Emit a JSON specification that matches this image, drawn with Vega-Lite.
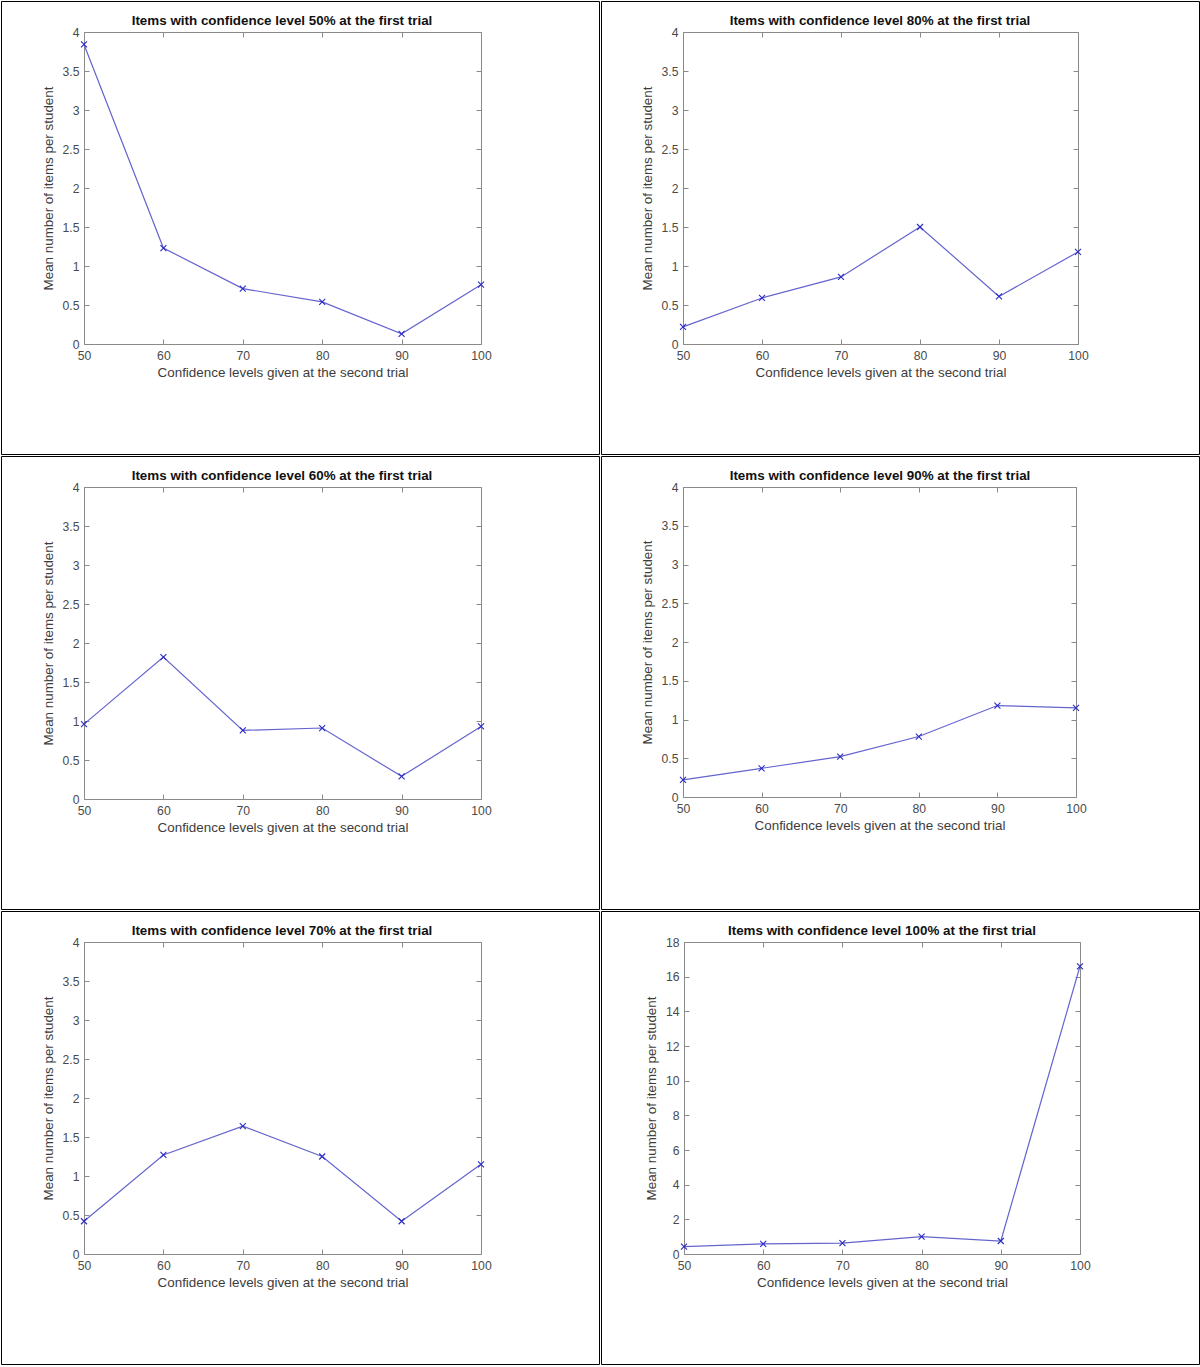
{
  "$schema": "https://vega.github.io/schema/vega-lite/v6.json",
  "padding": 0,
  "background": "white",
  "spacing": 0,
  "columns": 2,
  "datasets": {
    "p50": [{"second": 50, "value": 3.84}, {"second": 60, "value": 1.23}, {"second": 70, "value": 0.71}, {"second": 80, "value": 0.54}, {"second": 90, "value": 0.13}, {"second": 100, "value": 0.76}],
    "p80": [{"second": 50, "value": 0.22}, {"second": 60, "value": 0.59}, {"second": 70, "value": 0.86}, {"second": 80, "value": 1.5}, {"second": 90, "value": 0.61}, {"second": 100, "value": 1.18}],
    "p60": [{"second": 50, "value": 0.96}, {"second": 60, "value": 1.82}, {"second": 70, "value": 0.88}, {"second": 80, "value": 0.91}, {"second": 90, "value": 0.29}, {"second": 100, "value": 0.93}],
    "p90": [{"second": 50, "value": 0.22}, {"second": 60, "value": 0.37}, {"second": 70, "value": 0.52}, {"second": 80, "value": 0.78}, {"second": 90, "value": 1.18}, {"second": 100, "value": 1.15}],
    "p70": [{"second": 50, "value": 0.42}, {"second": 60, "value": 1.27}, {"second": 70, "value": 1.64}, {"second": 80, "value": 1.25}, {"second": 90, "value": 0.42}, {"second": 100, "value": 1.15}],
    "p100": [{"second": 50, "value": 0.42}, {"second": 60, "value": 0.58}, {"second": 70, "value": 0.63}, {"second": 80, "value": 1.0}, {"second": 90, "value": 0.75}, {"second": 100, "value": 16.6}]
  },
  "concat": [
    {
      "width": 598, "height": 453,
      "title": {"text": "Items with confidence level 50% at the first trial", "offset": -26, "dx": -18},
      "data": {"name": "p50"},
      "layer": [
        {"mark": {"type": "line", "color": "#6464cf", "strokeWidth": 1.2, "point": {"shape": "M-1,-1L1,1M-1,1L1,-1", "filled": false, "size": 36, "stroke": "#2a2ac4", "strokeWidth": 1.1}},
         "encoding": {
           "x": {"field": "second", "type": "quantitative", "scale": {"domain": [50, 100], "range": [83, 480], "nice": false, "zero": false}, "axis": {"orient": "bottom", "offset": -110, "values": [50, 60, 70, 80, 90, 100], "format": "d", "title": "Confidence levels given at the second trial"}},
           "y": {"field": "value", "type": "quantitative", "scale": {"domain": [0, 4], "range": [343, 31], "nice": false}, "axis": {"orient": "left", "offset": -83, "values": [0, 0.5, 1, 1.5, 2, 2.5, 3, 3.5, 4], "title": "Mean number of items per student"}}
         }},
        {"mark": {"type": "line", "opacity": 0},
         "encoding": {
           "x": {"field": "second", "type": "quantitative", "axis": {"orient": "top", "offset": -31, "labels": false, "title": null, "values": [50, 60, 70, 80, 90, 100]}},
           "y": {"field": "value", "type": "quantitative", "axis": {"orient": "right", "offset": -118, "labels": false, "title": null, "values": [0, 0.5, 1, 1.5, 2, 2.5, 3, 3.5, 4]}}
         }}
      ],
      "resolve": {"axis": {"x": "independent", "y": "independent"}}
    },
    {
      "width": 598, "height": 453,
      "title": {"text": "Items with confidence level 80% at the first trial", "offset": -26, "dx": -20},
      "data": {"name": "p80"},
      "layer": [
        {"mark": {"type": "line", "color": "#6464cf", "strokeWidth": 1.2, "point": {"shape": "M-1,-1L1,1M-1,1L1,-1", "filled": false, "size": 36, "stroke": "#2a2ac4", "strokeWidth": 1.1}},
         "encoding": {
           "x": {"field": "second", "type": "quantitative", "scale": {"domain": [50, 100], "range": [82, 477], "nice": false, "zero": false}, "axis": {"orient": "bottom", "offset": -110, "values": [50, 60, 70, 80, 90, 100], "format": "d", "title": "Confidence levels given at the second trial"}},
           "y": {"field": "value", "type": "quantitative", "scale": {"domain": [0, 4], "range": [343, 31], "nice": false}, "axis": {"orient": "left", "offset": -82, "values": [0, 0.5, 1, 1.5, 2, 2.5, 3, 3.5, 4], "title": "Mean number of items per student"}}
         }},
        {"mark": {"type": "line", "opacity": 0},
         "encoding": {
           "x": {"field": "second", "type": "quantitative", "axis": {"orient": "top", "offset": -31, "labels": false, "title": null, "values": [50, 60, 70, 80, 90, 100]}},
           "y": {"field": "value", "type": "quantitative", "axis": {"orient": "right", "offset": -121, "labels": false, "title": null, "values": [0, 0.5, 1, 1.5, 2, 2.5, 3, 3.5, 4]}}
         }}
      ],
      "resolve": {"axis": {"x": "independent", "y": "independent"}}
    },
    {
      "width": 598, "height": 453,
      "title": {"text": "Items with confidence level 60% at the first trial", "offset": -26, "dx": -18},
      "data": {"name": "p60"},
      "layer": [
        {"mark": {"type": "line", "color": "#6464cf", "strokeWidth": 1.2, "point": {"shape": "M-1,-1L1,1M-1,1L1,-1", "filled": false, "size": 36, "stroke": "#2a2ac4", "strokeWidth": 1.1}},
         "encoding": {
           "x": {"field": "second", "type": "quantitative", "scale": {"domain": [50, 100], "range": [83, 480], "nice": false, "zero": false}, "axis": {"orient": "bottom", "offset": -110, "values": [50, 60, 70, 80, 90, 100], "format": "d", "title": "Confidence levels given at the second trial"}},
           "y": {"field": "value", "type": "quantitative", "scale": {"domain": [0, 4], "range": [343, 31], "nice": false}, "axis": {"orient": "left", "offset": -83, "values": [0, 0.5, 1, 1.5, 2, 2.5, 3, 3.5, 4], "title": "Mean number of items per student"}}
         }},
        {"mark": {"type": "line", "opacity": 0},
         "encoding": {
           "x": {"field": "second", "type": "quantitative", "axis": {"orient": "top", "offset": -31, "labels": false, "title": null, "values": [50, 60, 70, 80, 90, 100]}},
           "y": {"field": "value", "type": "quantitative", "axis": {"orient": "right", "offset": -118, "labels": false, "title": null, "values": [0, 0.5, 1, 1.5, 2, 2.5, 3, 3.5, 4]}}
         }}
      ],
      "resolve": {"axis": {"x": "independent", "y": "independent"}}
    },
    {
      "width": 598, "height": 453,
      "title": {"text": "Items with confidence level 90% at the first trial", "offset": -26, "dx": -20},
      "data": {"name": "p90"},
      "layer": [
        {"mark": {"type": "line", "color": "#6464cf", "strokeWidth": 1.2, "point": {"shape": "M-1,-1L1,1M-1,1L1,-1", "filled": false, "size": 36, "stroke": "#2a2ac4", "strokeWidth": 1.1}},
         "encoding": {
           "x": {"field": "second", "type": "quantitative", "scale": {"domain": [50, 100], "range": [82, 475], "nice": false, "zero": false}, "axis": {"orient": "bottom", "offset": -112, "values": [50, 60, 70, 80, 90, 100], "format": "d", "title": "Confidence levels given at the second trial"}},
           "y": {"field": "value", "type": "quantitative", "scale": {"domain": [0, 4], "range": [341, 31], "nice": false}, "axis": {"orient": "left", "offset": -82, "values": [0, 0.5, 1, 1.5, 2, 2.5, 3, 3.5, 4], "title": "Mean number of items per student"}}
         }},
        {"mark": {"type": "line", "opacity": 0},
         "encoding": {
           "x": {"field": "second", "type": "quantitative", "axis": {"orient": "top", "offset": -31, "labels": false, "title": null, "values": [50, 60, 70, 80, 90, 100]}},
           "y": {"field": "value", "type": "quantitative", "axis": {"orient": "right", "offset": -123, "labels": false, "title": null, "values": [0, 0.5, 1, 1.5, 2, 2.5, 3, 3.5, 4]}}
         }}
      ],
      "resolve": {"axis": {"x": "independent", "y": "independent"}}
    },
    {
      "width": 598, "height": 453,
      "title": {"text": "Items with confidence level 70% at the first trial", "offset": -26, "dx": -18},
      "data": {"name": "p70"},
      "layer": [
        {"mark": {"type": "line", "color": "#6464cf", "strokeWidth": 1.2, "point": {"shape": "M-1,-1L1,1M-1,1L1,-1", "filled": false, "size": 36, "stroke": "#2a2ac4", "strokeWidth": 1.1}},
         "encoding": {
           "x": {"field": "second", "type": "quantitative", "scale": {"domain": [50, 100], "range": [83, 480], "nice": false, "zero": false}, "axis": {"orient": "bottom", "offset": -110, "values": [50, 60, 70, 80, 90, 100], "format": "d", "title": "Confidence levels given at the second trial"}},
           "y": {"field": "value", "type": "quantitative", "scale": {"domain": [0, 4], "range": [343, 31], "nice": false}, "axis": {"orient": "left", "offset": -83, "values": [0, 0.5, 1, 1.5, 2, 2.5, 3, 3.5, 4], "title": "Mean number of items per student"}}
         }},
        {"mark": {"type": "line", "opacity": 0},
         "encoding": {
           "x": {"field": "second", "type": "quantitative", "axis": {"orient": "top", "offset": -31, "labels": false, "title": null, "values": [50, 60, 70, 80, 90, 100]}},
           "y": {"field": "value", "type": "quantitative", "axis": {"orient": "right", "offset": -118, "labels": false, "title": null, "values": [0, 0.5, 1, 1.5, 2, 2.5, 3, 3.5, 4]}}
         }}
      ],
      "resolve": {"axis": {"x": "independent", "y": "independent"}}
    },
    {
      "width": 598, "height": 453,
      "title": {"text": "Items with confidence level 100% at the first trial", "offset": -26, "dx": -18},
      "data": {"name": "p100"},
      "layer": [
        {"mark": {"type": "line", "color": "#6464cf", "strokeWidth": 1.2, "point": {"shape": "M-1,-1L1,1M-1,1L1,-1", "filled": false, "size": 36, "stroke": "#2a2ac4", "strokeWidth": 1.1}},
         "encoding": {
           "x": {"field": "second", "type": "quantitative", "scale": {"domain": [50, 100], "range": [83, 479], "nice": false, "zero": false}, "axis": {"orient": "bottom", "offset": -110, "values": [50, 60, 70, 80, 90, 100], "format": "d", "title": "Confidence levels given at the second trial"}},
           "y": {"field": "value", "type": "quantitative", "scale": {"domain": [0, 18], "range": [343, 31], "nice": false}, "axis": {"orient": "left", "offset": -83, "values": [0, 2, 4, 6, 8, 10, 12, 14, 16, 18], "format": "d", "title": "Mean number of items per student"}}
         }},
        {"mark": {"type": "line", "opacity": 0},
         "encoding": {
           "x": {"field": "second", "type": "quantitative", "axis": {"orient": "top", "offset": -31, "labels": false, "title": null, "values": [50, 60, 70, 80, 90, 100]}},
           "y": {"field": "value", "type": "quantitative", "axis": {"orient": "right", "offset": -119, "labels": false, "title": null, "values": [0, 2, 4, 6, 8, 10, 12, 14, 16, 18]}}
         }}
      ],
      "resolve": {"axis": {"x": "independent", "y": "independent"}}
    }
  ],
  "config": {
    "font": "Liberation Sans",
    "view": {"stroke": "black", "strokeWidth": 1},
    "concat": {"spacing": 0},
    "title": {"fontSize": 13.4, "fontWeight": "bold", "color": "#111111", "anchor": "middle"},
    "axis": {
      "grid": false,
      "domainColor": "#8a8a8a",
      "domainWidth": 1,
      "tickColor": "#8a8a8a",
      "tickSize": -5,
      "tickWidth": 1,
      "labelColor": "#4a4a4a",
      "labelFontSize": 12.2,
      "labelPadding": 10,
      "labelFlush": false,
      "labelOverlap": false,
      "format": "~g",
      "titleColor": "#3c3c3c",
      "titleFontSize": 13.4,
      "titleFontWeight": "normal",
      "titlePadding": 4
    },
    "axisY": {"titlePadding": 7}
  }
}
